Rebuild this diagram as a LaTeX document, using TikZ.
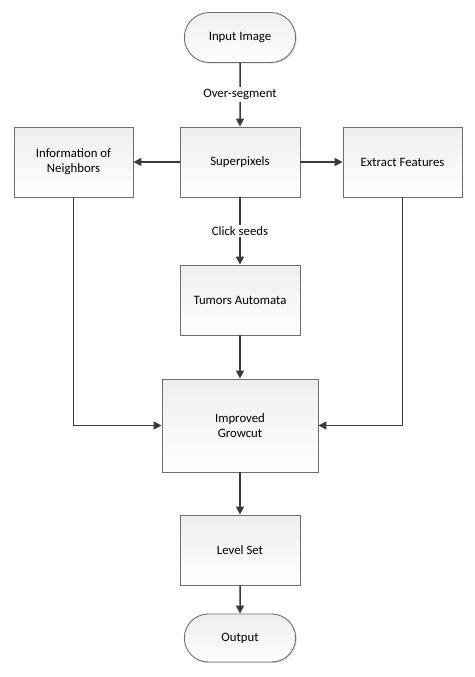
\documentclass[tikz,border=0pt]{standalone}
\usepackage{fontspec}
\setmainfont{Carlito}
\usetikzlibrary{arrows.meta,shapes.misc,shadows}
\definecolor{edgegray}{HTML}{6E6E6E}
\definecolor{linegray}{HTML}{3A3A3A}
\begin{document}
\begin{tikzpicture}[x=1pt,y=-1pt,
  font=\fontsize{12.8}{15}\selectfont,
  boxbase/.style={draw=edgegray, line width=0.9pt, top color=gray!13, bottom color=white,
     drop shadow={shadow xshift=1.2pt, shadow yshift=-1.2pt, opacity=0.25}, align=center, text=black},
  procbox/.style={boxbase, rectangle, minimum width=120pt, minimum height=70pt},
  termbox/.style={boxbase, rounded rectangle, minimum width=118pt, minimum height=50pt},
  conn/.style={draw=linegray, line width=1.5pt, -{Triangle[width=8pt,length=8pt]}},
  lbl/.style={fill=white, inner sep=2pt, text=black}
]
\useasboundingbox (0,0) rectangle (474,677);
\node[termbox] (in) at (240,37.5) {Input Image};
\node[procbox] (sp) at (240,162) {Superpixels};
\node[procbox, minimum width=119pt] (nb) at (73.5,162) {Information of\\Neighbors};
\node[procbox, minimum width=119pt] (ef) at (402.5,162) {Extract Features};
\node[procbox] (ta) at (240,300) {Tumors Automata};
\node[procbox, minimum width=156pt, minimum height=93pt] (ig) at (240,425.5) {Improved\\Growcut};
\node[procbox] (ls) at (240,550) {Level Set};
\node[termbox, minimum height=48pt] (out) at (240,638) {Output};

\draw[conn] (in) -- node[lbl] (l1) {Over-segment} (sp);
\draw[conn] (sp) -- (nb);
\draw[conn] (sp) -- (ef);
\draw[conn] (sp) -- node[lbl] (l2) {Click seeds} (ta);
\draw[conn] (ta) -- (ig);
\draw[conn] (nb.south) |- (ig.west);
\draw[conn] (ef.south) |- (ig.east);
\draw[conn] (ig) -- (ls);
\draw[conn] (ls) -- (out);
\end{tikzpicture}
\end{document}
